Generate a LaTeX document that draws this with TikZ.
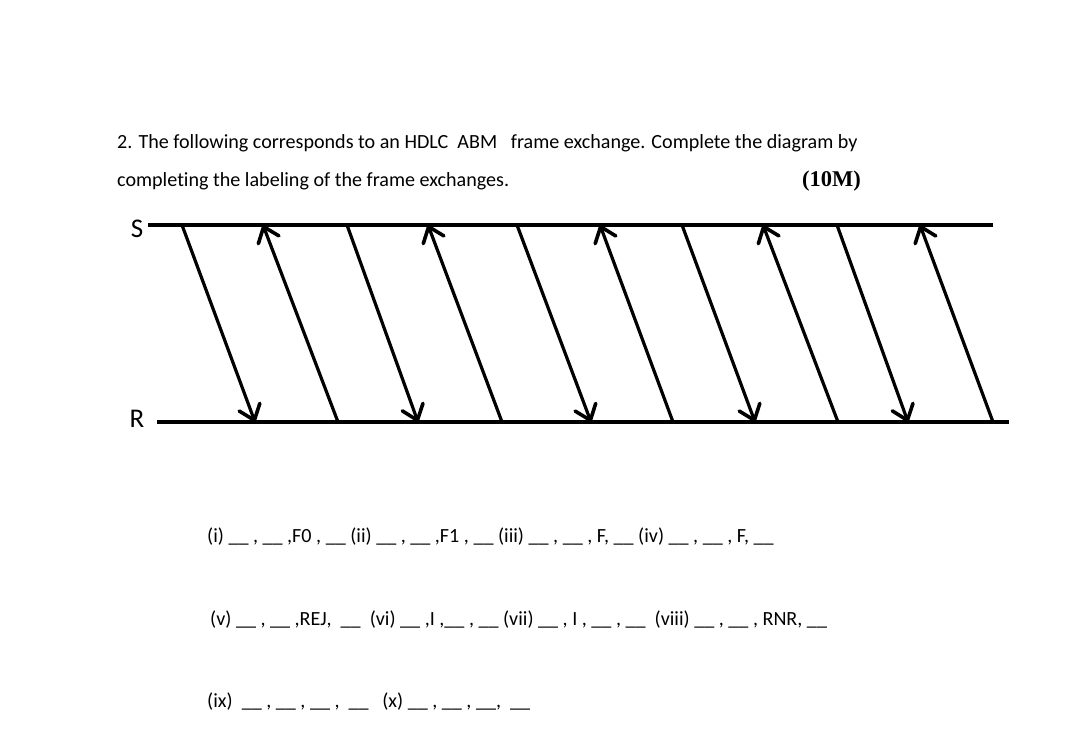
\documentclass[tikz,border=0pt]{standalone}
\usepackage{fontspec}
\setmainfont[Ligatures=NoCommon]{Carlito}
\newfontfamily\markfont{Liberation Serif}
\usetikzlibrary{positioning,arrows.meta}

\tikzset{
  timeline/.style={line width=3.5pt},
  frame/.style={line width=3.2pt,-{Straight Barb[length=14pt,width=22pt,line width=3.6pt,round]}},
  txt/.style={anchor=west,inner sep=0pt,font=\fontsize{20.1}{24}\selectfont}
}

\begin{document}
\begin{tikzpicture}[x=1pt,y=-1pt]
            \useasboundingbox[fill=white] (0,0) rectangle (1065,741);
            % question text
            \node[txt](q1) at (117,143) {2. The following corresponds to an HDLC \ ABM \ \ frame exchange. Complete the diagram by};
            \node[txt](q2) at (117,181) {completing the labeling of the frame exchanges.};
            \node[anchor=east,inner sep=0pt,font=\markfont\bfseries\fontsize{22.5}{26}\selectfont](mark) at (861,181) {(10M)};
            % stations
            \node[inner sep=0pt,font=\fontsize{27}{30}\selectfont](S) at (137,229) {S};
            \node[inner sep=0pt,font=\fontsize{27}{30}\selectfont](R) at (137,419) {R};
            \coordinate (s0) at (148,225);
            \coordinate (s1) at (993,225);
            \coordinate (r0) at (157,422);
            \coordinate (r1) at (1009,422);
            \draw[timeline] (s0) -- (s1);
            \draw[timeline] (r0) -- (r1);
            % frames S to R
            \coordinate (a1) at (182,225);  \coordinate (b1) at (255,422);
            \coordinate (a2) at (347,225);  \coordinate (b2) at (418,422);
            \coordinate (a3) at (517,225);  \coordinate (b3) at (591,422);
            \coordinate (a4) at (682,225);  \coordinate (b4) at (755,422);
            \coordinate (a5) at (837,225);  \coordinate (b5) at (908,422);
            % frames R to S
            \coordinate (c1) at (338,422);  \coordinate (d1) at (263,225);
            \coordinate (c2) at (502,422);  \coordinate (d2) at (428,225);
            \coordinate (c3) at (673,422);  \coordinate (d3) at (600,225);
            \coordinate (c4) at (838,422);  \coordinate (d4) at (763,225);
            \coordinate (c5) at (993,422);  \coordinate (d5) at (920,225);
            \foreach \i in {1,...,5}{
              \draw[frame] (a\i) -- (b\i);
              \draw[frame] (c\i) -- (d\i);
            }
            % labels to fill in
            \node[txt](l1) at (207,537) {(i) \_\_ , \_\_ ,F0 , \_\_ (ii) \_\_ , \_\_ ,F1 , \_\_ (iii) \_\_ , \_\_ , F, \_\_ (iv) \_\_ , \_\_ , F, \_\_};
            \node[txt](l2) at (210,620) {(v) \_\_ , \_\_ ,REJ, \ \_\_ \ (vi) \_\_ ,I ,\_\_ , \_\_ (vii) \_\_ , I , \_\_ , \_\_ \ (viii) \_\_ , \_\_ , RNR, \_\_};
            \node[txt](l3) at (207,702) {(ix) \ \_\_ , \_\_ , \_\_ , \ \_\_ \ \ (x) \_\_ , \_\_ , \_\_, \ \_\_};
        \end{tikzpicture}
\end{document}
